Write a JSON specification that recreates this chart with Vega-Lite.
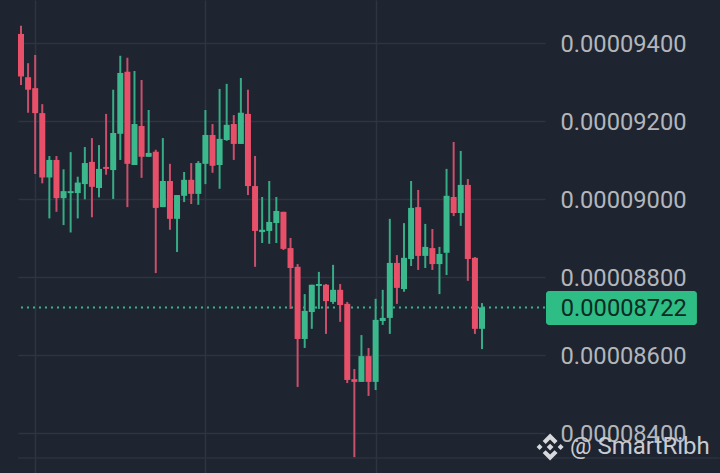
{
  "$schema": "https://vega.github.io/schema/vega-lite/v6.json",
  "width": 527,
  "height": 473,
  "autosize": "none",
  "padding": {"left": 18, "right": 175, "top": 0, "bottom": 0},
  "background": "#1e2530",
  "view": {"stroke": null},
  "config": {"font": "Roboto"},
  "datasets": {
    "one": [{"note": "annotation"}],
    "candles": [
    {"i":0,"open":9423,"high":9444,"low":9292,"close":9314},
    {"i":1,"open":9312,"high":9348,"low":9221,"close":9280},
    {"i":2,"open":9284,"high":9369,"low":9064,"close":9220},
    {"i":3,"open":9220,"high":9243,"low":9040,"close":9055},
    {"i":4,"open":9055,"high":9110,"low":8950,"close":9100},
    {"i":5,"open":9100,"high":9110,"low":8967,"close":9002},
    {"i":6,"open":9002,"high":9076,"low":8933,"close":9020},
    {"i":7,"open":9015,"high":9120,"low":8914,"close":9020},
    {"i":8,"open":9015,"high":9057,"low":8950,"close":9042},
    {"i":9,"open":9038,"high":9133,"low":8999,"close":9092},
    {"i":10,"open":9095,"high":9156,"low":8953,"close":9031},
    {"i":11,"open":9028,"high":9138,"low":9004,"close":9077},
    {"i":12,"open":9082,"high":9218,"low":9062,"close":9077},
    {"i":13,"open":9074,"high":9280,"low":9000,"close":9169},
    {"i":14,"open":9167,"high":9367,"low":9100,"close":9323},
    {"i":15,"open":9326,"high":9362,"low":8979,"close":9090},
    {"i":16,"open":9087,"high":9328,"low":9087,"close":9192},
    {"i":17,"open":9187,"high":9305,"low":9054,"close":9108},
    {"i":18,"open":9108,"high":9228,"low":9108,"close":9118},
    {"i":19,"open":9121,"high":9126,"low":8810,"close":8977},
    {"i":20,"open":8979,"high":9156,"low":8979,"close":9046},
    {"i":21,"open":9046,"high":9090,"low":8921,"close":8949},
    {"i":22,"open":8949,"high":9010,"low":8864,"close":9010},
    {"i":23,"open":9008,"high":9069,"low":8992,"close":9049},
    {"i":24,"open":9049,"high":9092,"low":8987,"close":9013},
    {"i":25,"open":9013,"high":9097,"low":8985,"close":9092},
    {"i":26,"open":9090,"high":9228,"low":9038,"close":9164},
    {"i":27,"open":9164,"high":9192,"low":9067,"close":9085},
    {"i":28,"open":9087,"high":9282,"low":9026,"close":9154},
    {"i":29,"open":9151,"high":9295,"low":9149,"close":9190},
    {"i":30,"open":9192,"high":9215,"low":9100,"close":9141},
    {"i":31,"open":9141,"high":9310,"low":9141,"close":9221},
    {"i":32,"open":9218,"high":9280,"low":9010,"close":9033},
    {"i":33,"open":9033,"high":9110,"low":8826,"close":8918},
    {"i":34,"open":8915,"high":9005,"low":8887,"close":8921},
    {"i":35,"open":8918,"high":9046,"low":8885,"close":8941},
    {"i":36,"open":8938,"high":9005,"low":8887,"close":8969},
    {"i":37,"open":8967,"high":8967,"low":8869,"close":8872},
    {"i":38,"open":8874,"high":8900,"low":8718,"close":8823},
    {"i":39,"open":8826,"high":8833,"low":8518,"close":8641},
    {"i":40,"open":8641,"high":8756,"low":8618,"close":8713},
    {"i":41,"open":8710,"high":8780,"low":8667,"close":8780},
    {"i":42,"open":8777,"high":8813,"low":8718,"close":8782},
    {"i":43,"open":8780,"high":8782,"low":8654,"close":8738},
    {"i":44,"open":8736,"high":8831,"low":8731,"close":8767},
    {"i":45,"open":8767,"high":8782,"low":8685,"close":8728},
    {"i":46,"open":8731,"high":8736,"low":8528,"close":8536},
    {"i":47,"open":8538,"high":8564,"low":8338,"close":8531},
    {"i":48,"open":8531,"high":8651,"low":8531,"close":8597},
    {"i":49,"open":8597,"high":8618,"low":8495,"close":8531},
    {"i":50,"open":8531,"high":8744,"low":8510,"close":8690},
    {"i":51,"open":8687,"high":8767,"low":8677,"close":8695},
    {"i":52,"open":8695,"high":8949,"low":8654,"close":8836},
    {"i":53,"open":8836,"high":8856,"low":8731,"close":8772},
    {"i":54,"open":8769,"high":8938,"low":8762,"close":8849},
    {"i":55,"open":8846,"high":9046,"low":8828,"close":8977},
    {"i":56,"open":8979,"high":9023,"low":8818,"close":8854},
    {"i":57,"open":8854,"high":8936,"low":8823,"close":8877},
    {"i":58,"open":8874,"high":8923,"low":8818,"close":8833},
    {"i":59,"open":8833,"high":8877,"low":8756,"close":8859},
    {"i":60,"open":8862,"high":9077,"low":8805,"close":9008},
    {"i":61,"open":9005,"high":9146,"low":8956,"close":8964},
    {"i":62,"open":8964,"high":9123,"low":8931,"close":9036},
    {"i":63,"open":9036,"high":9051,"low":8790,"close":8846},
    {"i":64,"open":8849,"high":8851,"low":8654,"close":8667},
    {"i":65,"open":8667,"high":8733,"low":8615,"close":8722}
    ]
  },
  "layer": [
    {
      "data": {"name": "one"},
      "mark": {"type": "rule", "color": "#2b323c", "strokeWidth": 1.5},
      "encoding": {
        "x": {"datum": -0.42, "type": "quantitative", "scale": {"domain": [-0.423, 73.88], "nice": false, "zero": false, "padding": 0},
          "axis": {"values": [2, 26, 50], "labels": false, "ticks": false, "domain": false, "title": null, "grid": true, "gridColor": "#2e3540", "gridWidth": 1.5}},
        "x2": {"datum": 98.5},
        "y": {"datum": 8336, "type": "quantitative", "scale": {"domain": [8297.4, 9510], "nice": false, "zero": false},
          "axis": {"orient": "right", "values": [8400, 8600, 8800, 9000, 9200, 9400], "labelExpr": "'0.0000' + datum.value", "grid": true, "gridColor": "#2e3540", "gridWidth": 1.5, "ticks": false, "domain": false, "title": null, "labelPadding": 15, "labelOffset": 2, "labelColor": "#b3b6bc", "labelFontSize": 23.7, "labelFont": "Roboto"}}
      }
    },
    {
      "data": {"name": "one"},
      "mark": {"type": "rule", "color": "#35b48a", "strokeWidth": 2, "strokeDash": [2, 4]},
      "encoding": {"y": {"datum": 8722, "type": "quantitative", "scale": {"domain": [8297.4, 9510], "nice": false, "zero": false}}}
    },
    {
      "data": {"name": "candles"},
      "mark": {"type": "rule", "strokeWidth": 2},
      "encoding": {
        "x": {"field": "i", "type": "quantitative", "scale": {"domain": [-0.423, 73.88], "nice": false, "zero": false, "padding": 0}},
        "y": {"field": "low", "type": "quantitative", "scale": {"domain": [8297.4, 9510], "nice": false, "zero": false}},
        "y2": {"field": "high"},
        "color": {"condition": {"test": "datum.close >= datum.open", "value": "#36ab85"}, "value": "#c94f6a"}
      }
    },
    {
      "data": {"name": "candles"},
      "mark": {"type": "bar", "size": 6},
      "encoding": {
        "x": {"field": "i", "type": "quantitative", "scale": {"domain": [-0.423, 73.88], "nice": false, "zero": false, "padding": 0}},
        "y": {"field": "open", "type": "quantitative", "scale": {"domain": [8297.4, 9510], "nice": false, "zero": false}},
        "y2": {"field": "close"},
        "color": {"condition": {"test": "datum.close >= datum.open", "value": "#3bb88c"}, "value": "#e8506a"}
      }
    },
    {
      "data": {"name": "one"},
      "mark": {"type": "rect", "color": "#2ebd85", "cornerRadius": 3},
      "encoding": {
        "x": {"datum": 74.02, "type": "quantitative", "scale": {"domain": [-0.423, 73.88], "nice": false, "zero": false, "padding": 0}},
        "x2": {"datum": 95.3},
        "y": {"datum": 8764, "type": "quantitative", "scale": {"domain": [8297.4, 9510], "nice": false, "zero": false}},
        "y2": {"datum": 8677}
      }
    },
    {
      "data": {"name": "one"},
      "mark": {"type": "text", "align": "left", "baseline": "middle", "dy": 2, "font": "Roboto", "fontSize": 23.7, "color": "#0d2b23"},
      "encoding": {
        "x": {"datum": 76.1, "type": "quantitative", "scale": {"domain": [-0.423, 73.88], "nice": false, "zero": false, "padding": 0}},
        "y": {"datum": 8722, "type": "quantitative", "scale": {"domain": [8297.4, 9510], "nice": false, "zero": false}},
        "text": {"value": "0.00008722"}
      }
    },
    {
      "data": {"name": "one"},
      "mark": {"type": "point", "filled": true, "opacity": 1, "size": 729, "color": "#d8d9dc", "shape": "M0,-0.25L0.25,0L0,0.25L-0.25,0ZM-1,0L-0.78,-0.22L-0.56,0L-0.78,0.22ZM1,0L0.78,-0.22L0.56,0L0.78,0.22ZM0,-1L0.55,-0.45L0.33,-0.23L0,-0.56L-0.33,-0.23L-0.55,-0.45ZM0,1L0.55,0.45L0.33,0.23L0,0.56L-0.33,0.23L-0.55,0.45Z"},
      "encoding": {
        "x": {"datum": 74.6, "type": "quantitative", "scale": {"domain": [-0.423, 73.88], "nice": false, "zero": false, "padding": 0}},
        "y": {"datum": 8364, "type": "quantitative", "scale": {"domain": [8297.4, 9510], "nice": false, "zero": false}}
      }
    },
    {
      "data": {"name": "one"},
      "mark": {"type": "text", "align": "left", "baseline": "middle", "font": "Roboto", "fontSize": 24, "color": "#c9cbd0"},
      "encoding": {
        "x": {"datum": 77.4, "type": "quantitative", "scale": {"domain": [-0.423, 73.88], "nice": false, "zero": false, "padding": 0}},
        "y": {"datum": 8364, "type": "quantitative", "scale": {"domain": [8297.4, 9510], "nice": false, "zero": false}},
        "text": {"value": "@ SmartRibh"}
      }
    }
  ]
}
